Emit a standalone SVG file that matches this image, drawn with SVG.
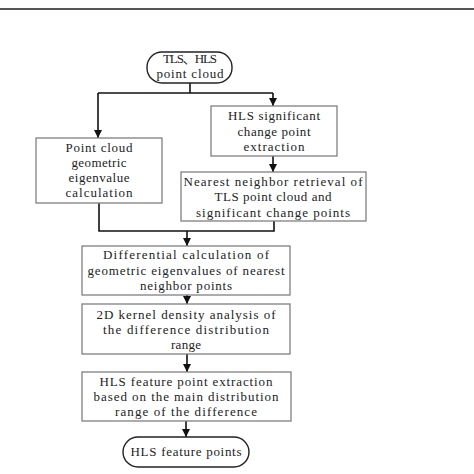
<svg xmlns="http://www.w3.org/2000/svg" width="474" height="474" viewBox="0 0 474 474">
<style>
.box{fill:#fff;stroke:#808080;stroke-width:1.3}
.term{fill:#fff;stroke:#222;stroke-width:1.4}
.t{font-family:"Liberation Serif","Noto Sans CJK SC",serif;font-size:13px;fill:#222;text-anchor:middle}
.c{fill:none;stroke:#111;stroke-width:1.6}
</style>
<defs>
<marker id="ah" viewBox="0 0 10 10" refX="10" refY="5" markerWidth="8" markerHeight="8" markerUnits="userSpaceOnUse" orient="auto">
<path d="M0,0 L10,5 L0,10 z" fill="#111"/>
</marker>
</defs>
<rect width="474" height="474" fill="#fff"/>
<line x1="0" y1="9" x2="474" y2="9" stroke="#555" stroke-width="2"/>
<g id="connectors">
<path class="c" d="M190,83 V93"/>
<path class="c" d="M98,93 H273"/>
<path class="c" d="M98,93 V138" marker-end="url(#ah)"/>
<path class="c" d="M273,93 V106" marker-end="url(#ah)"/>
<path class="c" d="M273,156 V172" marker-end="url(#ah)"/>
<path class="c" d="M99,203 V231 H274 V221"/>
<path class="c" d="M187,231 V246" marker-end="url(#ah)"/>
<path class="c" d="M187,295 V304" marker-end="url(#ah)"/>
<path class="c" d="M187,354 V372" marker-end="url(#ah)"/>
<path class="c" d="M186,421 V437" marker-end="url(#ah)"/>
</g>
<g id="start">
<rect class="term" x="147" y="52" width="85" height="31" rx="15"/>
<text class="t" x="190" y="63" textLength="54" lengthAdjust="spacing">TLS、HLS</text>
<text class="t" x="190" y="78" textLength="67" lengthAdjust="spacing">point cloud</text>
</g>
<g id="eigen">
<rect class="box" x="36" y="138" width="126" height="65"/>
<text class="t" x="99" y="152" textLength="67" lengthAdjust="spacing">Point cloud</text>
<text class="t" x="99" y="167" textLength="55" lengthAdjust="spacing">geometric</text>
<text class="t" x="99" y="182" textLength="61" lengthAdjust="spacing">eigenvalue</text>
<text class="t" x="99" y="197" textLength="67" lengthAdjust="spacing">calculation</text>
</g>
<g id="significant">
<rect class="box" x="211" y="106" width="126" height="50"/>
<text class="t" x="274" y="120" textLength="92" lengthAdjust="spacing">HLS significant</text>
<text class="t" x="274" y="136" textLength="73" lengthAdjust="spacing">change point</text>
<text class="t" x="274" y="151" textLength="61" lengthAdjust="spacing">extraction</text>
</g>
<g id="nearest">
<rect class="box" x="181" y="172" width="185" height="49"/>
<text class="t" x="273" y="186" textLength="179" lengthAdjust="spacing">Nearest neighbor retrieval of</text>
<text class="t" x="273" y="201" textLength="117" lengthAdjust="spacing">TLS point cloud and</text>
<text class="t" x="273" y="217" textLength="154" lengthAdjust="spacing">significant change points</text>
</g>
<g id="differential">
<rect class="box" x="82" y="246" width="208" height="49"/>
<text class="t" x="186" y="259" textLength="166" lengthAdjust="spacing">Differential calculation of</text>
<text class="t" x="186" y="275" textLength="197" lengthAdjust="spacing">geometric eigenvalues of nearest</text>
<text class="t" x="186" y="290" textLength="92" lengthAdjust="spacing">neighbor points</text>
</g>
<g id="kde">
<rect class="box" x="82" y="304" width="208" height="50"/>
<text class="t" x="186" y="319" textLength="179" lengthAdjust="spacing">2D kernel density analysis of</text>
<text class="t" x="186" y="334" textLength="166" lengthAdjust="spacing">the difference distribution</text>
<text class="t" x="186" y="349" textLength="30" lengthAdjust="spacing">range</text>
</g>
<g id="extraction">
<rect class="box" x="82" y="372" width="209" height="49"/>
<text class="t" x="186" y="386" textLength="173" lengthAdjust="spacing">HLS feature point extraction</text>
<text class="t" x="186" y="401" textLength="185" lengthAdjust="spacing">based on the main distribution</text>
<text class="t" x="186" y="416" textLength="142" lengthAdjust="spacing">range of the difference</text>
</g>
<g id="end">
<rect class="term" x="123" y="437" width="126" height="30" rx="15"/>
<text class="t" x="186" y="456" textLength="111" lengthAdjust="spacing">HLS feature points</text>
</g>
</svg>
